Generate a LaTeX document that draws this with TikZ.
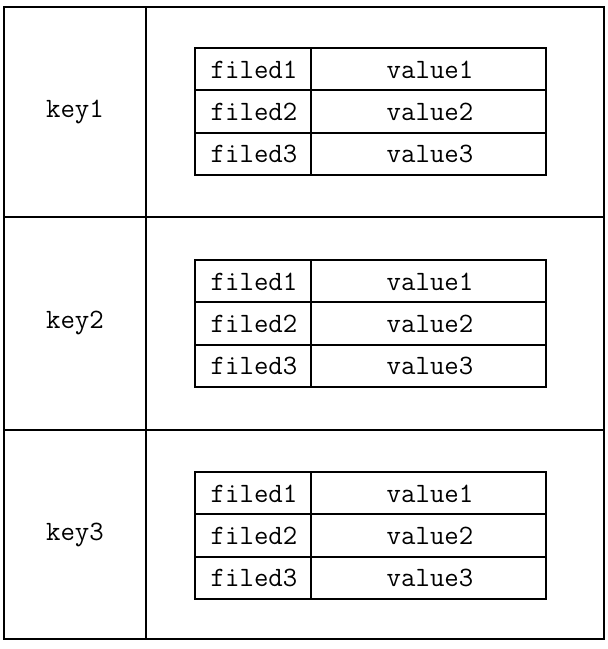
\documentclass[tikz,border=0pt]{standalone}
\usepackage{fontspec}
\begin{document}
\begin{tikzpicture}[x=1pt,y=-1pt,line width=2pt,
  txt/.style={font=\ttfamily\fontsize{28}{28}\selectfont,anchor=center}]
\useasboundingbox (0,0) rectangle (608,649);
\draw (4,7) rectangle (604,639);
\draw (146,7) -- (146,639);
\draw (4,217) -- (604,217);
\draw (4,430) -- (604,430);
\foreach \k/\y/\t in {1/112/48, 2/323/260, 3/535/472} {
  \node[txt] (key\k) at (75,\y) {key\k};
  \draw (195,\t) rectangle (546,\t+127);
  \draw (311,\t) -- (311,\t+127);
  \draw (195,\t+42) -- (546,\t+42);
  \draw (195,\t+85) -- (546,\t+85);
  \foreach \r in {1,2,3} {
    \node[txt] (f\k\r) at (254,\t+42*\r-20) {filed\r};
    \node[txt] (v\k\r) at (430,\t+42*\r-20) {value\r};
  }
}
\end{tikzpicture}
\end{document}
